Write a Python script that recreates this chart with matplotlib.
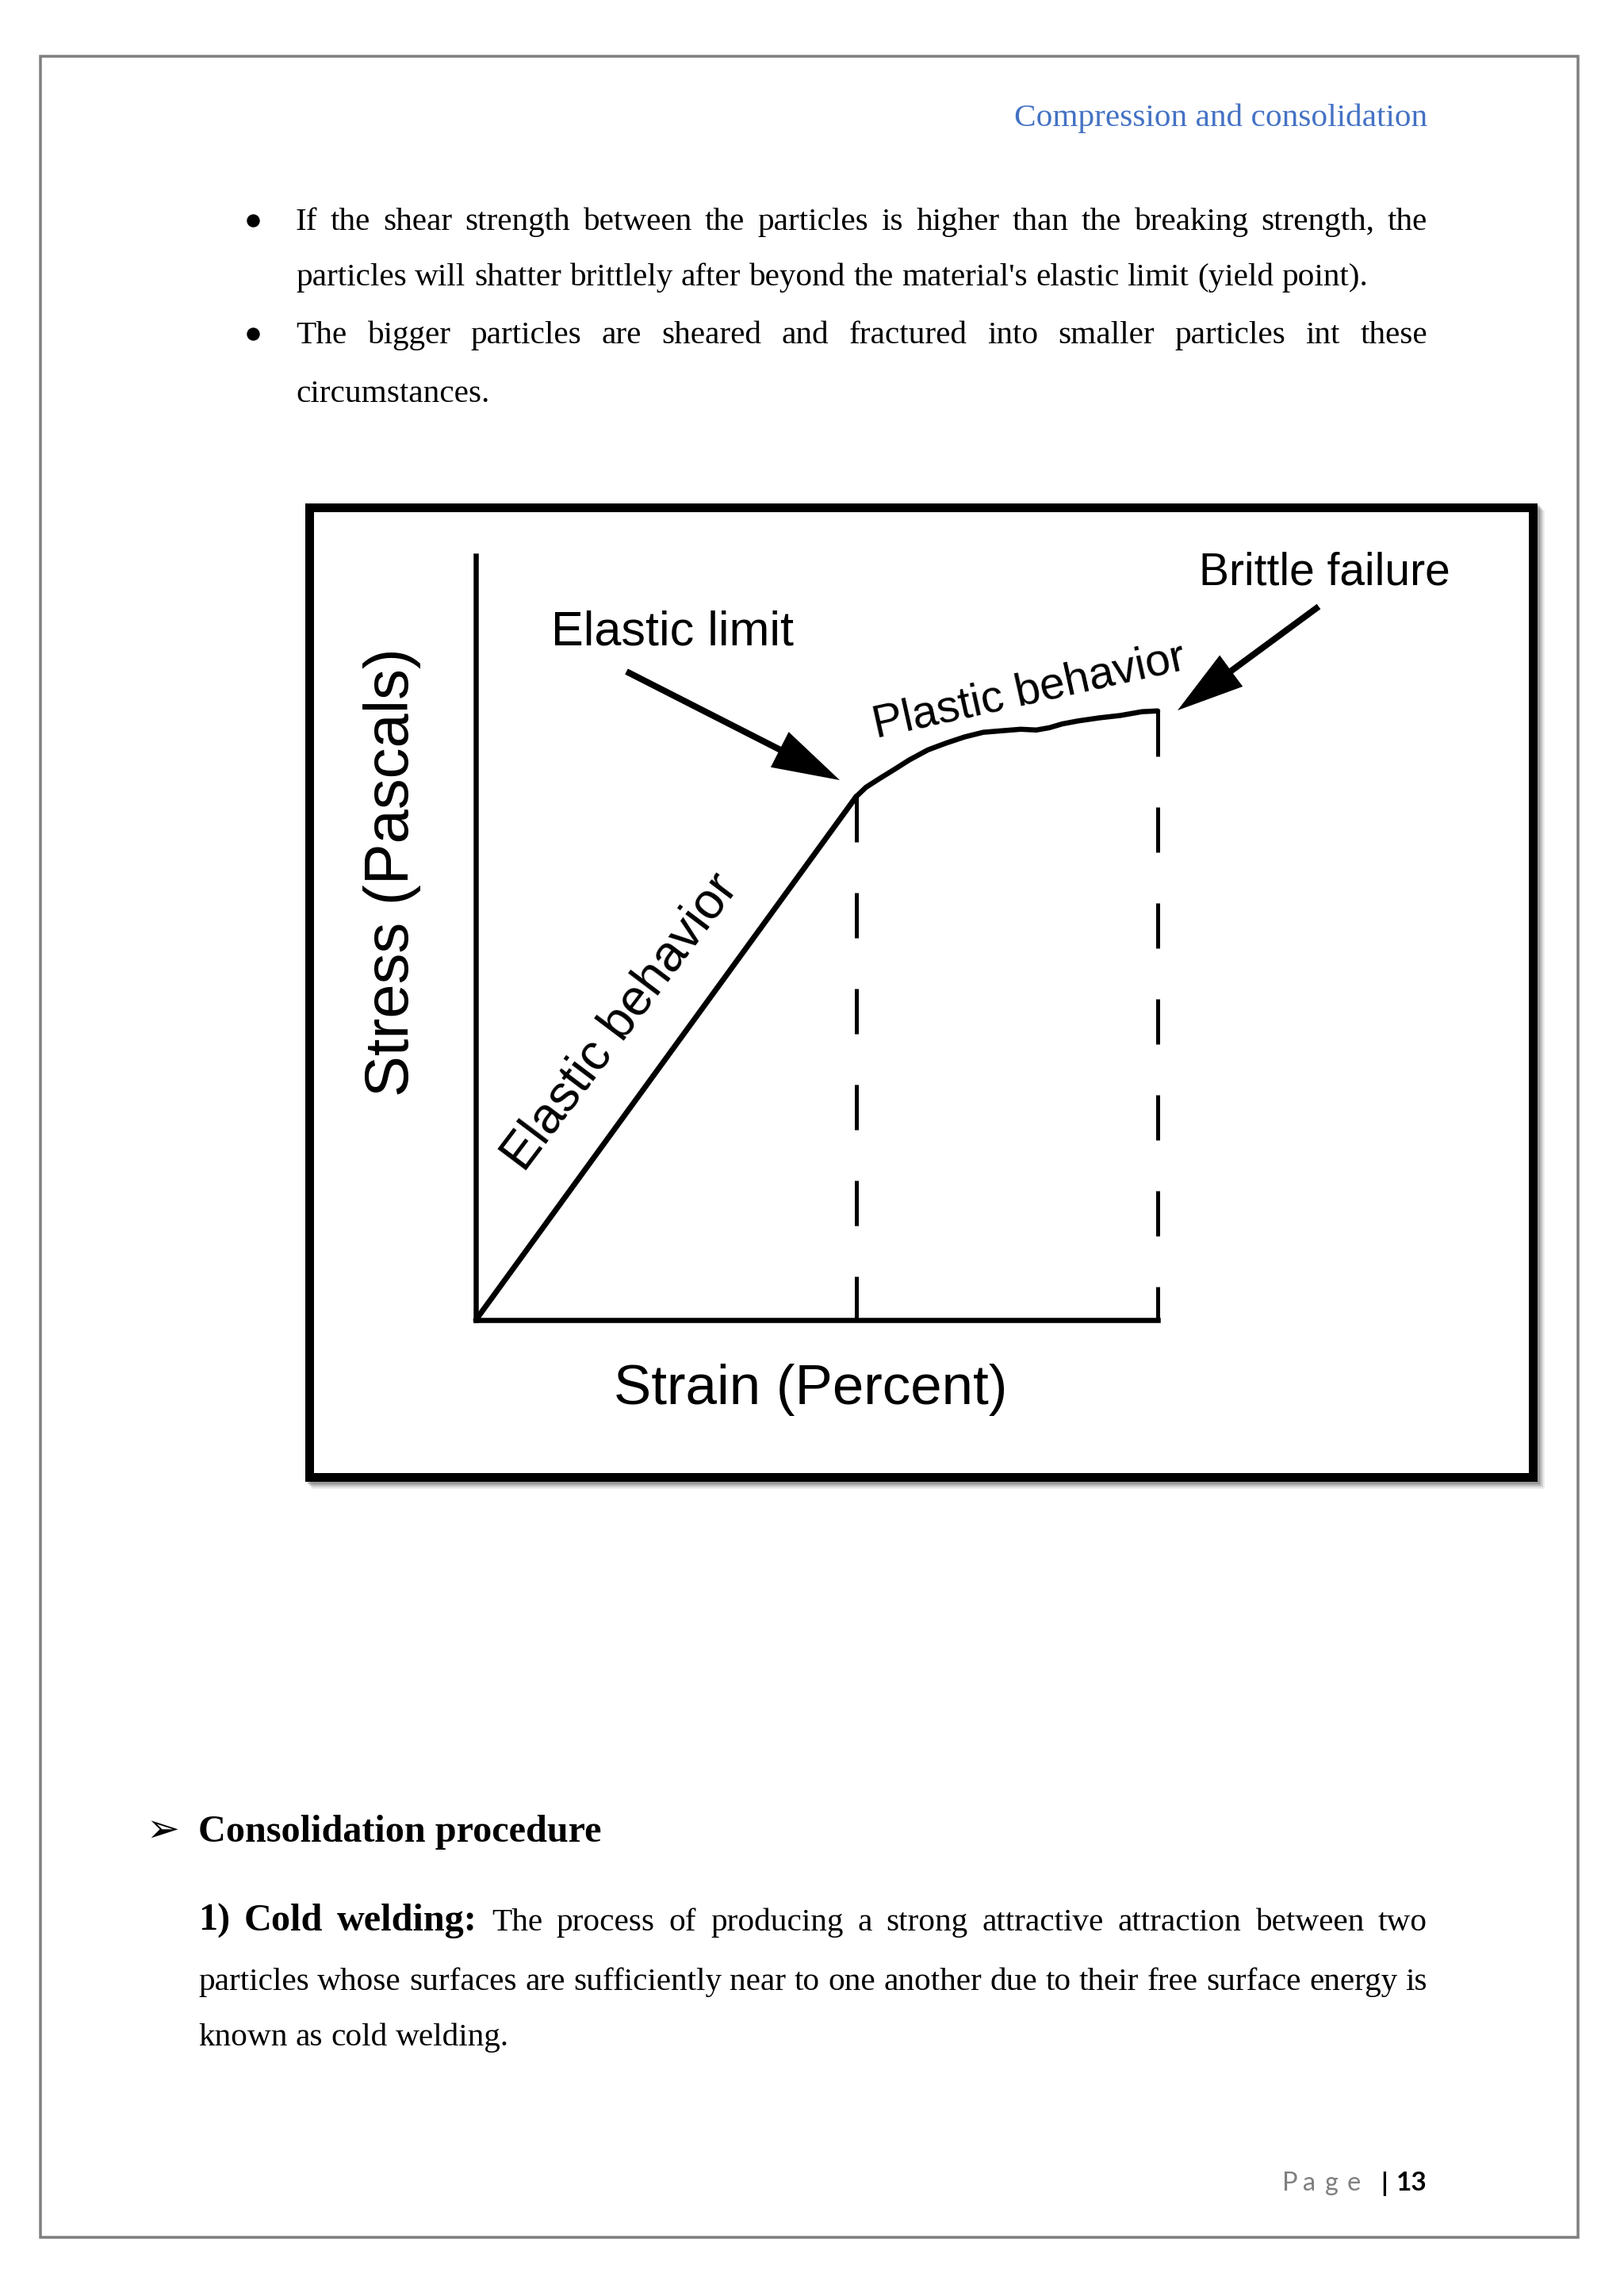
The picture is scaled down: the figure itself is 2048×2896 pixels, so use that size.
import matplotlib
matplotlib.use("Agg")
import matplotlib.pyplot as plt
from matplotlib.patches import Rectangle, FancyArrow

W, H, DPI = 2048, 2896, 100
PT = 72 / DPI  # points per pixel

plt.rcParams['lines.scale_dashes'] = False

# stress-strain sketch, both axes scaled 0..1 along the drawn axis lines
elastic_strain = [0.0, 0.558]
elastic_stress = [0.0, 0.685]
plastic_strain = [0.558, 0.572, 0.593, 0.613, 0.636, 0.663, 0.690, 0.717, 0.744,
                  0.771, 0.799, 0.822, 0.841, 0.860, 0.884, 0.915, 0.945, 0.977, 1.0]
plastic_stress = [0.685, 0.697, 0.709, 0.720, 0.733, 0.746, 0.755, 0.763, 0.769,
                  0.771, 0.773, 0.772, 0.775, 0.780, 0.784, 0.788, 0.791, 0.796, 0.797]
limit_strain, limit_stress = elastic_strain[-1], elastic_stress[-1]
failure_strain, failure_stress = plastic_strain[-1], plastic_stress[-1]

# page text
header_title = "Compression and consolidation"
bullet_lines = [
    ("If the shear strength between the particles is higher than the breaking strength, the", True),
    ("particles will shatter brittlely after beyond the material's elastic limit (yield point).", False),
    ("The bigger particles are sheared and fractured into smaller particles int these", True),
    ("circumstances.", False),
]
bullet_starts = [0, 2]
bullet_baselines = [290, 360, 433, 507]
section_title = "Consolidation procedure"
term_label = "1) Cold welding:"
para_lines = [
    ("The process of producing a strong attractive attraction between two", True),
    ("particles whose surfaces are sufficiently near to one another due to their free surface energy is", True),
    ("known as cold welding.", False),
]
para_baselines = [2435, 2510, 2580]
page_number = "13"

SERIF = 'Liberation Serif'
SANS = 'Liberation Sans'
BODY = 41.3 * PT
BIG = 48.2 * PT

fig = plt.figure(figsize=(W / DPI, H / DPI), dpi=DPI)
page = fig.add_axes([0, 0, 1, 1])
page.set_xlim(0, W)
page.set_ylim(H, 0)
page.axis('off')
renderer = fig.canvas.get_renderer()

# page border
page.add_patch(Rectangle((51, 71), 1939, 2751, fill=False, ec='#7f7f7f', lw=3.5 * PT, zorder=1))

# header
page.text(1800, 159, header_title, ha='right', va='baseline', family=SERIF,
          fontsize=BODY, color='#4472C4')


def text_width(s, size, bold=False, family=SERIF):
    t = page.text(0, 0, s, fontsize=size, family=family,
                  fontweight='bold' if bold else 'normal')
    w = t.get_window_extent(renderer).width
    t.remove()
    return w


space_px = text_width("n n", BODY) - text_width("nn", BODY)


def place_words(segments, x0, x1, y, justify):
    arts = []
    for txt, bold, size in segments:
        for word in txt.split():
            arts.append(page.text(x0, y, word, fontsize=size, family=SERIF,
                                  fontweight='bold' if bold else 'normal',
                                  ha='left', va='baseline', color='black'))
    widths = [a.get_window_extent(renderer).width for a in arts]
    if justify and len(arts) > 1:
        gap = (x1 - x0 - sum(widths)) / (len(arts) - 1)
    else:
        gap = space_px
    x = x0
    for a, w in zip(arts, widths):
        a.set_x(x)
        x += w + gap


# bullets
for i, ((line, just), yb) in enumerate(zip(bullet_lines, bullet_baselines)):
    if i in bullet_starts:
        page.plot([319], [yb - 12], marker='o', ms=15 * PT, color='black', ls='none')
    place_words([(line, False, BODY)], 373, 1800, yb, just)

# section heading
page.text(205, 2323, "\u27A2", ha='center', va='baseline', family=['DejaVu Sans'],
          fontsize=36, color='black')
page.text(250, 2323, section_title, ha='left', va='baseline', family=SERIF,
          fontsize=BIG, fontweight='bold')

for i, ((line, just), yb) in enumerate(zip(para_lines, para_baselines)):
    segs = [(line, False, BODY)]
    if i == 0:
        segs = [(term_label, True, BIG)] + segs
    place_words(segs, 250, 1800, yb, just)

# footer
for ch, xl in zip("Page", [1617, 1643, 1671, 1699]):
    page.text(xl, 2763, ch, ha='left', va='baseline', family='Lato', fontsize=23.5,
              color='#7f7f7f')
page.text(1746, 2765, "|", ha='center', va='baseline', family='Lato', fontsize=24,
          fontweight='bold', color='black')
page.text(1800, 2763, page_number, ha='right', va='baseline', family='Lato', fontsize=24,
          fontweight='bold', color='black')

# figure frame with soft shadow
fx0, fy0, fx1, fy1 = 384, 634, 1938, 1868
for off, a in [(10, 0.12), (8, 0.2), (6, 0.3), (4, 0.4)]:
    page.add_patch(Rectangle((fx0 + off, fy0 + off), fx1 - fx0, fy1 - fy0,
                             fc='#707070', ec='none', alpha=a, zorder=2))
page.add_patch(Rectangle((fx0 + 5.5, fy0 + 5.5), fx1 - fx0 - 11, fy1 - fy0 - 11,
                         fc='white', ec='black', lw=11 * PT, joinstyle='miter', zorder=3))

# diagram axes: origin at (600, 1665) px, strain axis to 1460 px, stress axis to 701 px
ax = fig.add_axes([600 / W, 1 - 1665 / H, 860 / W, 964 / H])
ax.set_xlim(0, 1)
ax.set_ylim(0, 1)
ax.set_facecolor('none')
for s in ['top', 'right']:
    ax.spines[s].set_visible(False)
for s in ['left', 'bottom']:
    ax.spines[s].set_linewidth(6.5 * PT)
    ax.spines[s].set_color('black')
ax.set_xticks([])
ax.set_yticks([])

ax.plot(elastic_strain, elastic_stress, color='black', lw=7 * PT,
        solid_capstyle='round', clip_on=False)
ax.plot(plastic_strain, plastic_stress, color='black', lw=6.5 * PT,
        solid_capstyle='round', solid_joinstyle='round', clip_on=False)
dash = (0, (57 * PT, 64 * PT))
ax.plot([limit_strain, limit_strain], [limit_stress, 0], color='black', lw=5 * PT,
        linestyle=dash, clip_on=False)
ax.plot([failure_strain, failure_strain], [failure_stress, 0], color='black', lw=5 * PT,
        linestyle=dash, clip_on=False)

# diagram labels
page.text(848, 814, "Elastic limit", ha='center', va='baseline', family=SANS, fontsize=44, zorder=5)
page.text(1670, 738, "Brittle failure", ha='center', va='baseline', family=SANS, fontsize=41, zorder=5)
page.text(1301, 887, "Plastic behavior", ha='center', va='baseline', family=SANS, fontsize=41,
          rotation=12.5, rotation_mode='anchor', zorder=5)
page.text(796, 1300, "Elastic behavior", ha='center', va='baseline', family=SANS, fontsize=46,
          rotation=53, rotation_mode='anchor', zorder=5)
page.text(515, 1100, "Stress (Pascals)", ha='center', va='baseline', family=SANS, fontsize=56,
          rotation=90, rotation_mode='anchor', zorder=5)
page.text(1022, 1771, "Strain (Percent)", ha='center', va='baseline', family=SANS, fontsize=51, zorder=5)

# pointer arrows
page.add_patch(FancyArrow(790, 847, 269, 137, width=8, head_width=50, head_length=85,
                          length_includes_head=True, fc='black', ec='black', lw=0, zorder=5))
page.add_patch(FancyArrow(1663, 765, -178, 131, width=8, head_width=49, head_length=84,
                          length_includes_head=True, fc='black', ec='black', lw=0, zorder=5))

fig.savefig('out.png', dpi=DPI, facecolor='white')
